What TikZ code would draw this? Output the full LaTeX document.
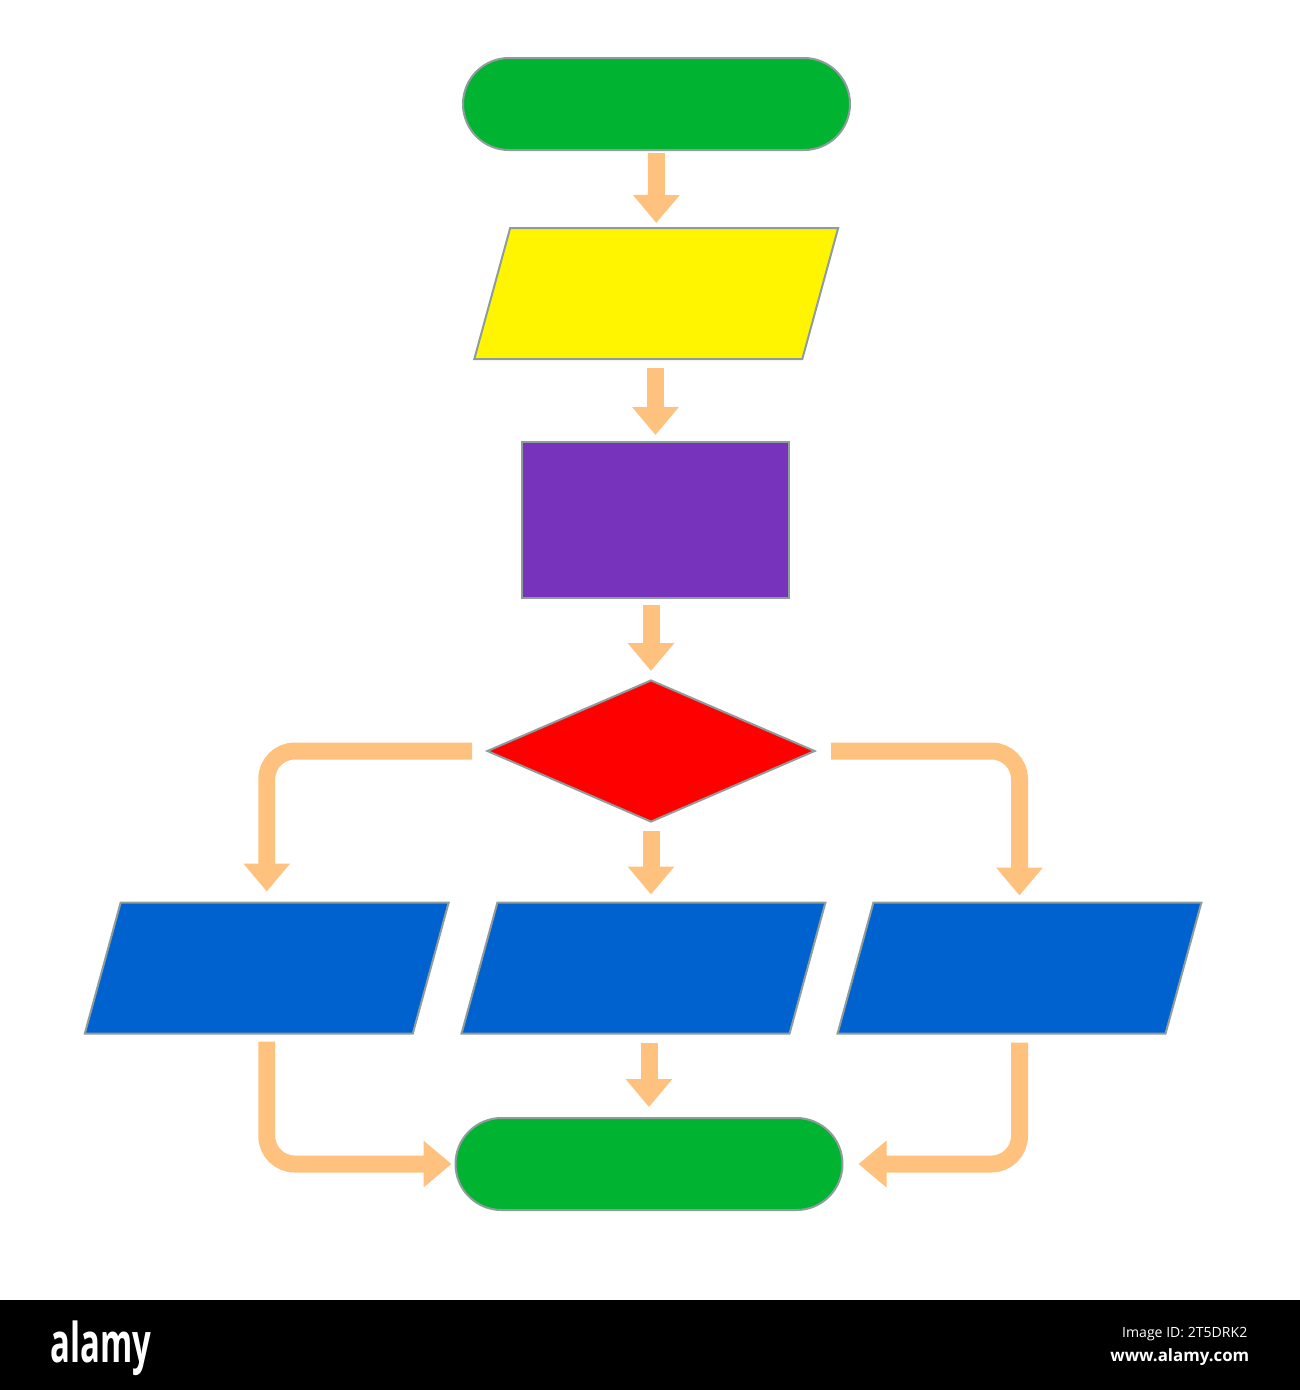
\documentclass[tikz,border=0pt]{standalone}
\usepackage{fontspec}
\newfontfamily\barfont{Open Sans}
\usetikzlibrary{shapes.geometric,arrows.meta}
\definecolor{termgreen}{HTML}{00B432}
\definecolor{inyellow}{HTML}{FFF500}
\definecolor{procpurple}{HTML}{7733BB}
\definecolor{decred}{HTML}{FF0000}
\definecolor{outblue}{HTML}{0062CF}
\definecolor{edgegray}{HTML}{8E9C9C}
\definecolor{flowc}{HTML}{FFC27E}

\begin{document}
\begin{tikzpicture}[
	box/.style={draw=edgegray, line width=0.02cm, inner sep=0pt},
	term/.style={box, fill=termgreen, rectangle, rounded corners=0.46cm, minimum width=3.87cm, minimum height=0.92cm},
	io/.style={box, inner sep=0.1cm, trapezium, trapezium left angle=83, trapezium right angle=97, trapezium stretches=true, minimum width=3.64cm, minimum height=1.31cm},
	flow/.style={draw=flowc, line width=0.17cm, rounded corners=0.28cm, -{Triangle[width=0.45cm, length=0.28cm]}}
]
	% The frame
	\useasboundingbox (0, 0) rectangle (13, -13.9);
	\fill[white] (0, 0) rectangle (13, -13);
	% The shapes
	\node[term] (start) at (6.565, -1.04) {};
	\node[io, fill=inyellow] (input) at (6.5625, -2.935) {};
	\node[box, fill=procpurple, minimum width=2.67cm, minimum height=1.56cm] (process) at (6.555, -5.2) {};
	\node[box, inner sep=0.1cm, diamond, fill=decred, minimum width=3.28cm, minimum height=1.42cm] (decision) at (6.51, -7.51) {};
	\node[io, fill=outblue] (outA) at (2.6675, -9.68) {};
	\node[io, fill=outblue] (outB) at (6.435, -9.68) {};
	\node[io, fill=outblue] (outC) at (10.195, -9.68) {};
	\node[term] (stop) at (6.49, -11.64) {};
	% The arrows down the middle
	\draw[flow, shorten <=0.02cm, shorten >=0.04cm] (start.south) -- (input.north);
	\draw[flow, shorten <=0.08cm, shorten >=0.06cm] (process.north |- input.south) -- (process.north);
	\draw[flow, shorten <=0.06cm, shorten >=0.08cm] (decision.north |- process.south) -- (decision.north);
	\draw[flow, shorten <=0.08cm, shorten >=0.07cm] (decision.south) -- (decision.south |- outB.north);
	\draw[flow, shorten <=0.08cm, shorten >=0.1cm] (stop.north |- outB.south) -- (stop.north);
	% The branches
	\draw[flow, shorten <=0.14cm, shorten >=0.1cm] (decision.west) -| (outA.north);
	\draw[flow, shorten <=0.15cm, shorten >=0.06cm] (decision.east) -| (outC.north);
	\draw[flow, shorten <=0.07cm, shorten >=0.03cm] (outA.south) |- (stop.west);
	\draw[flow, shorten <=0.08cm, shorten >=0.15cm] (outC.south) |- (stop.east);
	% The bottom bar
	\fill[black] (0, -13) rectangle (13, -13.9);
	\node[anchor=base west, inner sep=0pt, text=white, font=\barfont\bfseries\fontsize{15.6}{16}\selectfont] (brand) at (0.5, -13.62) {\scalebox{0.6}[1]{alamy}};
	\node[anchor=base east, inner sep=0pt, text=white, font=\barfont\fontsize{4}{5}\selectfont] (imgid) at (12.48, -13.375) {Image ID: 2T5DRK2};
	\node[anchor=base east, inner sep=0pt, text=white, font=\barfont\bfseries\fontsize{4.8}{6}\selectfont] (site) at (12.5, -13.61) {www.alamy.com};
\end{tikzpicture}
\end{document}
